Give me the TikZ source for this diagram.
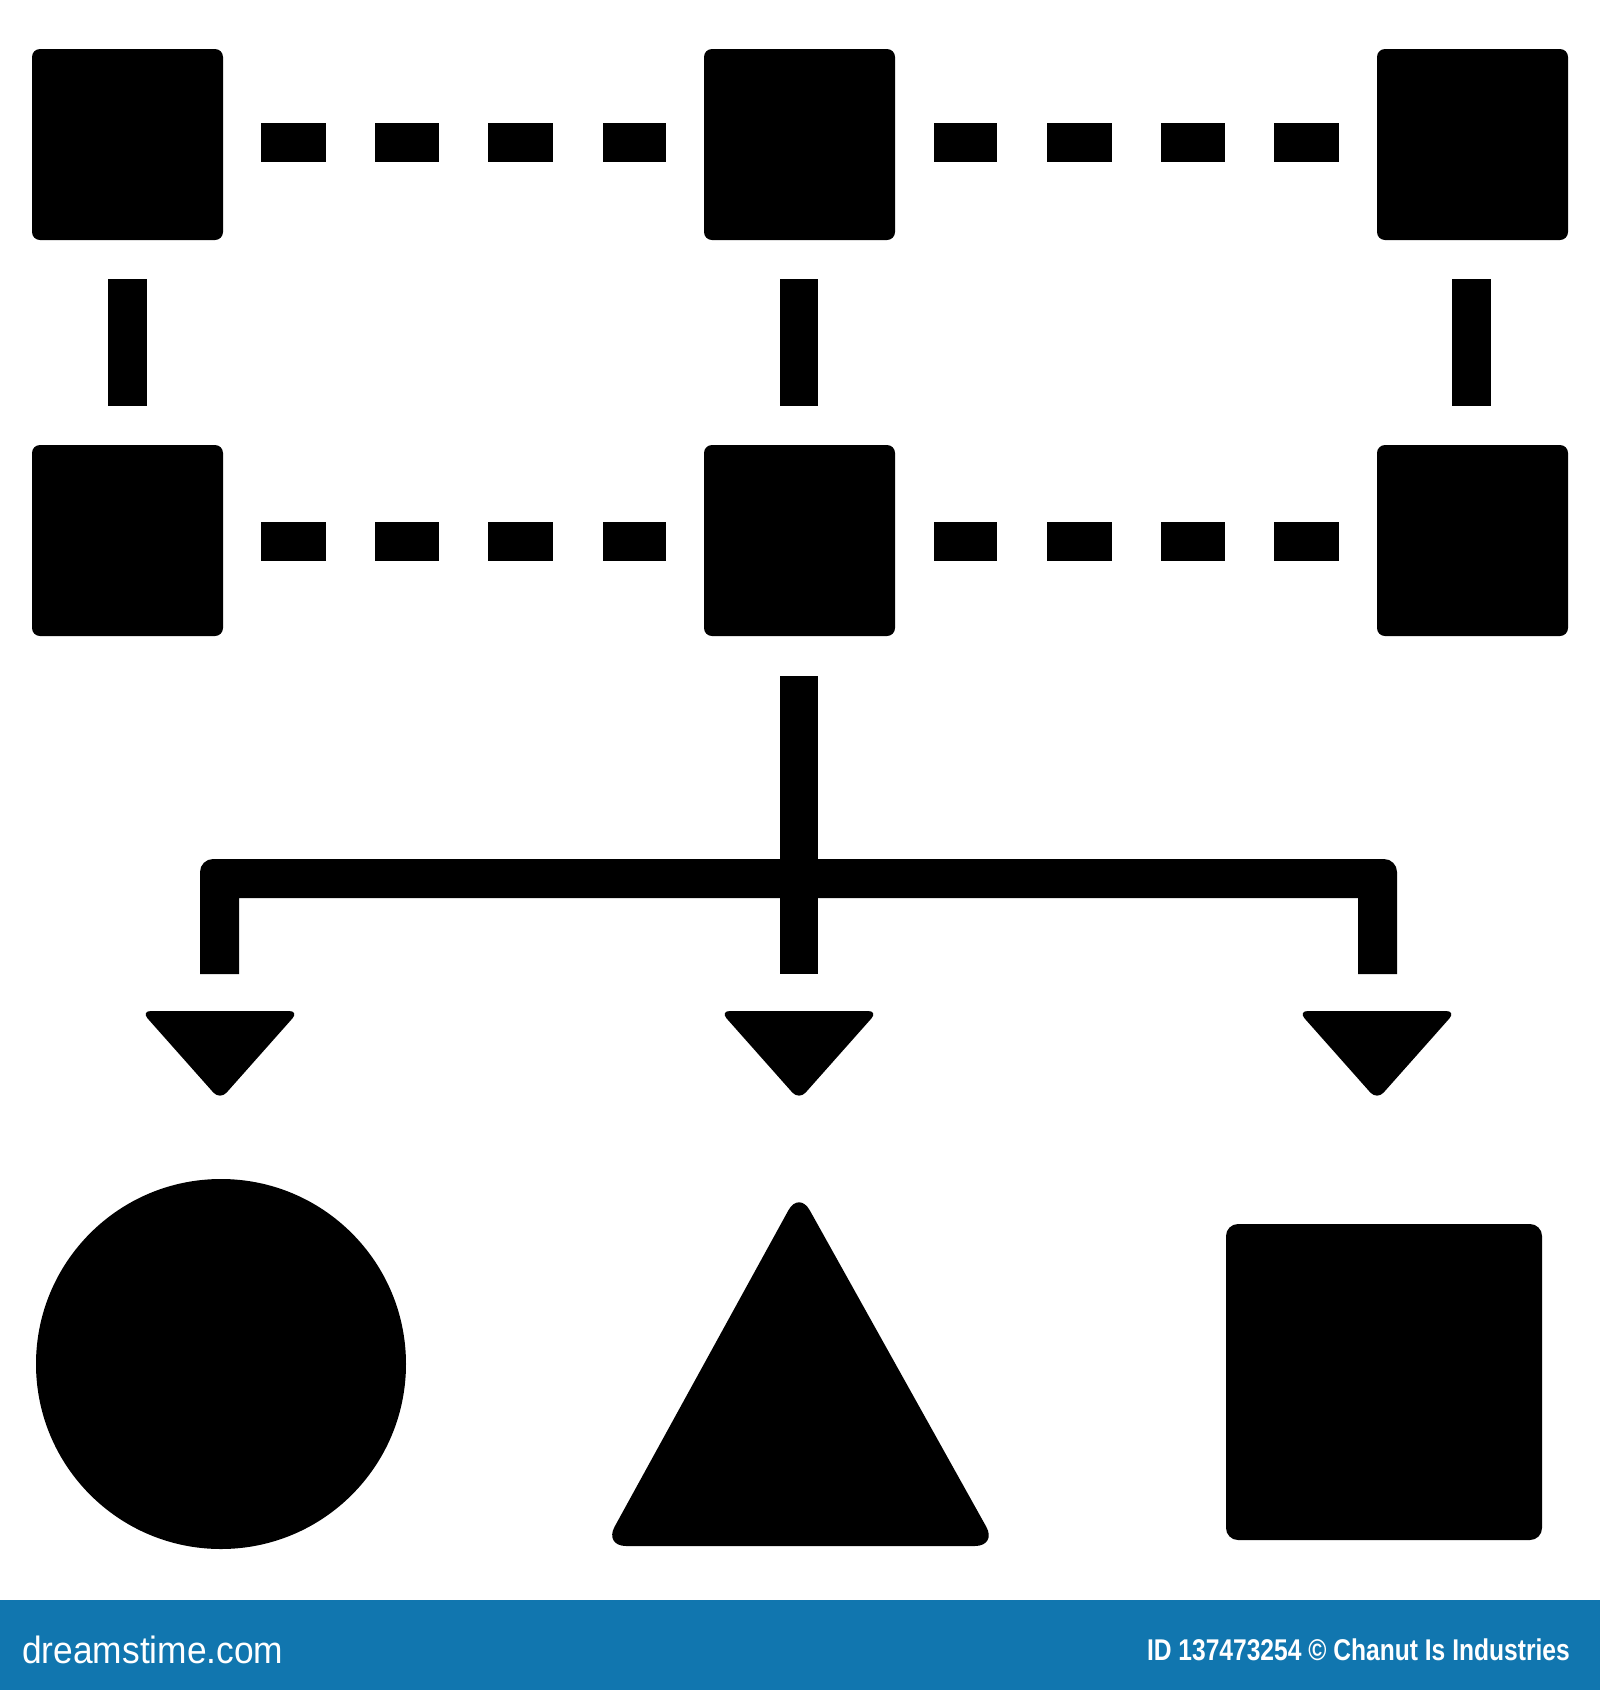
\documentclass[tikz,border=0pt]{standalone}
\usepackage{fontspec}
\setmainfont{Liberation Sans}
\definecolor{bannerblue}{HTML}{1176AF}
\begin{document}
\begin{tikzpicture}[x=1pt,y=-1pt,
  sq/.style={rectangle,fill=black,minimum size=191pt,inner sep=0pt,rounded corners=8pt},
  dsh/.style={fill=black},
  blk/.style={fill=black}]
\useasboundingbox (0,0) rectangle (1600,1690);
\fill[white] (0,0) rectangle (1600,1690);
% top grid squares
\node[sq] (s11) at (127.5,144.5) {};
\node[sq] (s12) at (799.5,144.5) {};
\node[sq] (s13) at (1472.5,144.5) {};
\node[sq] (s21) at (127.5,540.5) {};
\node[sq] (s22) at (799.5,540.5) {};
\node[sq] (s23) at (1472.5,540.5) {};
% horizontal dashes
\foreach \y/\h in {123/162, 522/561}{
  \foreach \a/\b in {261/326, 375/439, 488/553, 603/666, 934/997, 1047/1112, 1161/1225, 1274/1339}{
    \fill[dsh] (\a,\y) rectangle (\b,\h);
  }
}
% vertical connectors
\foreach \a/\b in {108/147, 780/818, 1452/1491}{
  \fill[dsh] (\a,279) rectangle (\b,406);
}
% stem
\fill[blk] (780,676) rectangle (818,974);
% bracket
\fill[blk] (200,974) -- (200,872) arc[start angle=180,end angle=270,radius=13] -- (1384,859)
  arc[start angle=-90,end angle=0,radius=13] -- (1397,974) -- (1358,974) -- (1358,898)
  -- (239,898) -- (239,974) -- cycle;
% arrowheads
\foreach \c in {220,799,1377}{
  \fill[blk,rounded corners=10pt] (\c-79,1011) -- (\c+79,1011) -- (\c,1100) -- cycle;
}
% bottom shapes
\fill[blk] (221,1364) circle[radius=185];
\fill[blk,rounded corners=22pt] (799,1191) -- (997,1546) -- (604,1546) -- cycle;
\fill[blk,rounded corners=12pt] (1226,1224) rectangle (1542,1540);
% banner
\fill[bannerblue] (0,1600) rectangle (1600,1690);
\node[anchor=base west,inner sep=0pt,text=white,font=\fontsize{38}{38}\selectfont,xscale=0.93] (logo) at (22,1663) {dreamstime.com};
\node[anchor=base east,inner sep=0pt,text=white,font=\bfseries\fontsize{30}{30}\selectfont,xscale=0.82] (credit) at (1570,1660) {ID 137473254 © Chanut Is Industries};
\end{tikzpicture}
\end{document}
